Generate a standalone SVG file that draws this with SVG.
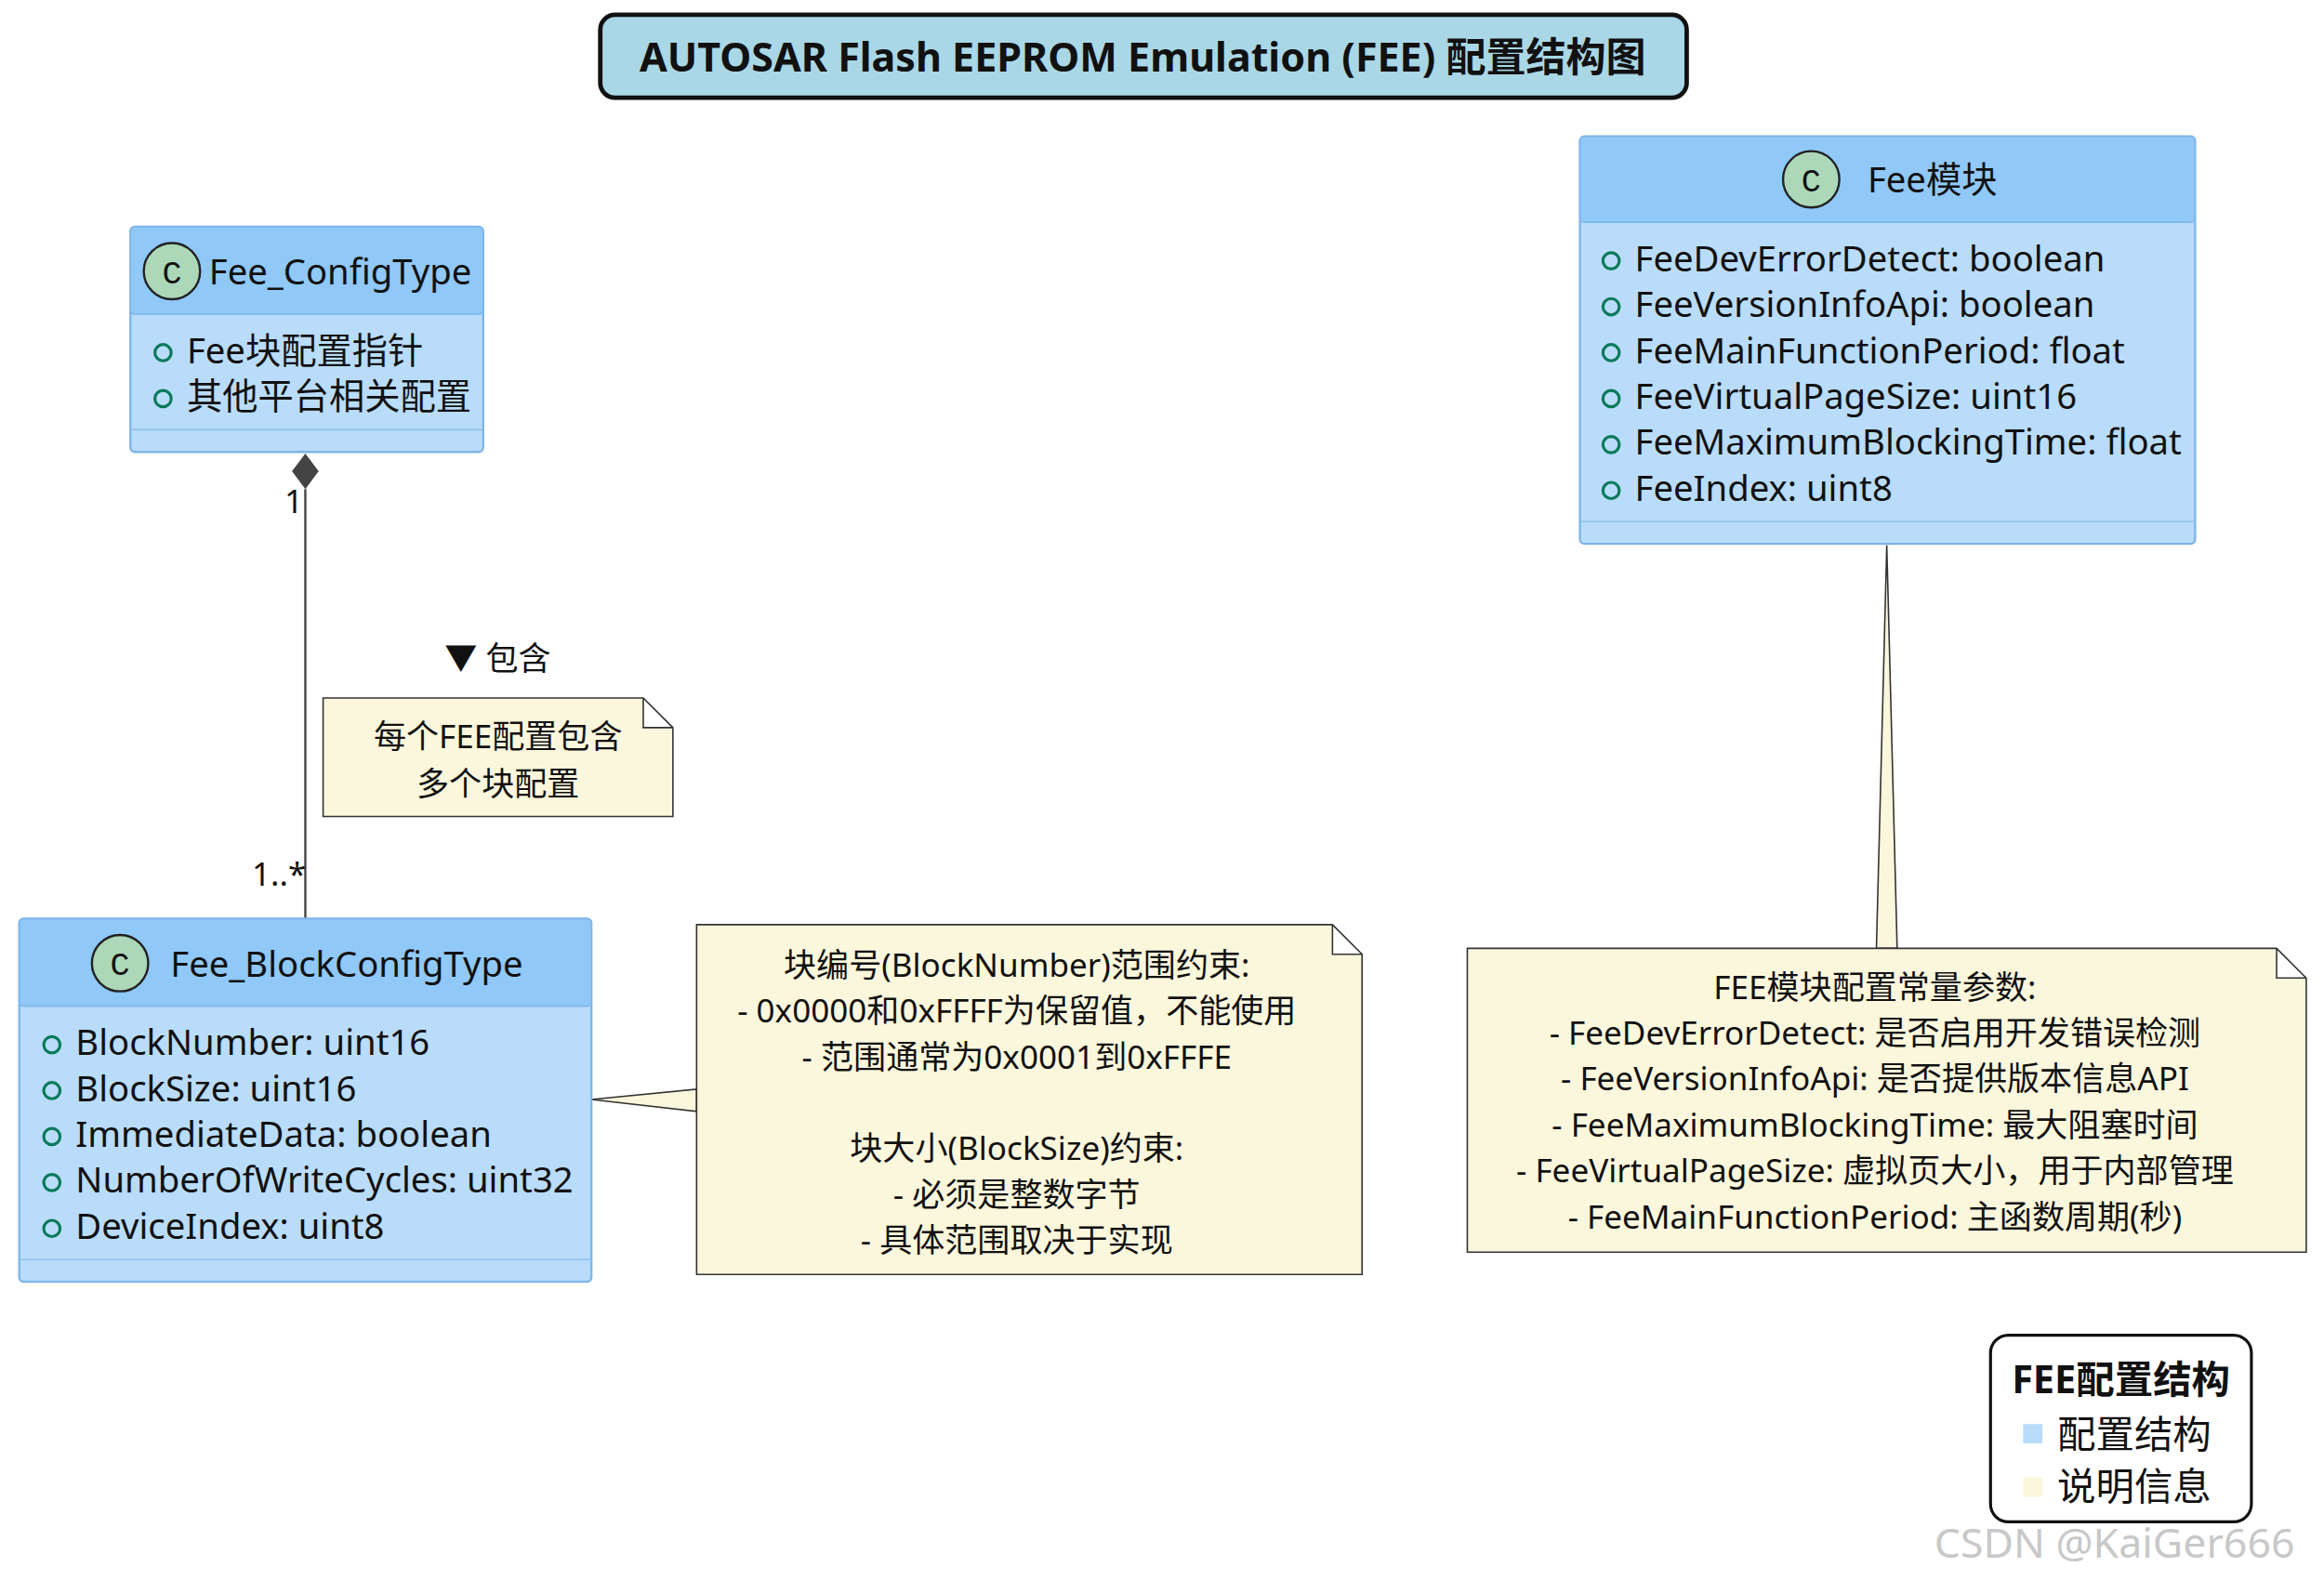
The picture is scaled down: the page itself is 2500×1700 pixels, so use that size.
<svg xmlns="http://www.w3.org/2000/svg" width="2500" height="1700" viewBox="0 0 2500 1700">
<style>
text{font-family:"Noto Sans","Noto Sans CJK SC",sans-serif;fill:#111}
.hd{fill:#90c8f8;stroke:#7fb5ea;stroke-width:1}
.bd{fill:#b9dcfa;stroke:#7fb5ea;stroke-width:1.5}
.sep{stroke:#8fc0ee;stroke-width:1}
.ci{fill:#acd8b9;stroke:#222;stroke-width:1.5}
.ct{font-size:22px;text-anchor:middle;font-family:"Liberation Mono",monospace}
.t{font-size:24px}
.at{font-size:24px}
.mk{fill:none;stroke:#0a7a5a;stroke-width:2}
.note{fill:#fbf7dc;stroke:#333;stroke-width:1}
.nt{font-size:22px;text-anchor:middle}
</style>
<rect width="2500" height="1700" fill="#fff"/>
<g transform="scale(1.5944)">
<g id="title">
<rect x="405" y="10" width="733" height="56" rx="10" fill="#a9d7e6" stroke="#111" stroke-width="3"/>
<text x="771" y="48" font-size="27" font-weight="bold" text-anchor="middle">AUTOSAR Flash EEPROM Emulation (FEE) 配置结构图</text>
</g>
<g id="connectors">
<line x1="206" y1="330" x2="206" y2="620" stroke="#444" stroke-width="1.5"/>
<polygon points="206,306 215,318 206,330 197,318" fill="#444"/>
<text x="192" y="346" font-size="22">1</text>
<text x="170" y="598" font-size="22">1..*</text>
<text x="300" y="452" font-size="22">▼ 包含</text>
<polygon points="399,742 470,735 470,750" fill="#fbf7dc" stroke="#333" stroke-width="1"/>
<polygon points="1273,368 1266,640 1280,640" fill="#fbf7dc" stroke="#333" stroke-width="1"/>
</g>
<g id="Fee_ConfigType">
<rect class="bd" x="88" y="153" width="238" height="152" rx="3"/>
<rect class="hd" x="88" y="153" width="238" height="59" rx="3"/>
<line class="sep" x1="88" y1="290" x2="326" y2="290"/>
<circle class="ci" cx="116" cy="183" r="19"/><text class="ct" x="116" y="191">C</text>
<text class="t" x="141" y="192">Fee_ConfigType</text>
<circle class="mk" cx="110" cy="238" r="5.5"/><text class="at" x="126" y="245">Fee块配置指针</text>
<circle class="mk" cx="110" cy="269" r="5.5"/><text class="at" x="126" y="276">其他平台相关配置</text>
</g>
<g id="note1">
<path class="note" d="M218,471 H434 L454,491 V551 H218 Z M434,471 V491 H454"/>
<text class="nt" x="336" y="505">每个FEE配置包含</text>
<text class="nt" x="336" y="537">多个块配置</text>
</g>
<g id="Fee_BlockConfigType">
<rect class="bd" x="13" y="620" width="386" height="245" rx="3"/>
<rect class="hd" x="13" y="620" width="386" height="59" rx="3"/>
<line class="sep" x1="13" y1="850" x2="399" y2="850"/>
<circle class="ci" cx="81" cy="650" r="19"/><text class="ct" x="81" y="658">C</text>
<text class="t" x="115" y="659">Fee_BlockConfigType</text>
<circle class="mk" cx="35" cy="705" r="5.5"/><text class="at" x="51" y="712">BlockNumber: uint16</text>
<circle class="mk" cx="35" cy="736" r="5.5"/><text class="at" x="51" y="743">BlockSize: uint16</text>
<circle class="mk" cx="35" cy="767" r="5.5"/><text class="at" x="51" y="774">ImmediateData: boolean</text>
<circle class="mk" cx="35" cy="798" r="5.5"/><text class="at" x="51" y="805">NumberOfWriteCycles: uint32</text>
<circle class="mk" cx="35" cy="829" r="5.5"/><text class="at" x="51" y="836">DeviceIndex: uint8</text>
</g>
<g id="note2">
<path class="note" d="M470,624 H899 L919,644 V860 H470 Z M899,624 V644 H919"/>
<text class="nt" x="686" y="659">块编号(BlockNumber)范围约束:</text>
<text class="nt" x="686" y="690">- 0x0000和0xFFFF为保留值，不能使用</text>
<text class="nt" x="686" y="721">- 范围通常为0x0001到0xFFFE</text>
<text class="nt" x="686" y="783">块大小(BlockSize)约束:</text>
<text class="nt" x="686" y="814">- 必须是整数字节</text>
<text class="nt" x="686" y="845">- 具体范围取决于实现</text>
</g>
<g id="Fee模块">
<rect class="bd" x="1066" y="92" width="415" height="275" rx="3"/>
<rect class="hd" x="1066" y="92" width="415" height="58" rx="3"/>
<line class="sep" x1="1066" y1="352" x2="1481" y2="352"/>
<circle class="ci" cx="1222" cy="121" r="19"/><text class="ct" x="1222" y="129">C</text>
<text class="t" x="1260" y="130">Fee模块</text>
<circle class="mk" cx="1087" cy="176" r="5.5"/><text class="at" x="1103" y="183">FeeDevErrorDetect: boolean</text>
<circle class="mk" cx="1087" cy="207" r="5.5"/><text class="at" x="1103" y="214">FeeVersionInfoApi: boolean</text>
<circle class="mk" cx="1087" cy="238" r="5.5"/><text class="at" x="1103" y="245">FeeMainFunctionPeriod: float</text>
<circle class="mk" cx="1087" cy="269" r="5.5"/><text class="at" x="1103" y="276">FeeVirtualPageSize: uint16</text>
<circle class="mk" cx="1087" cy="300" r="5.5"/><text class="at" x="1103" y="307">FeeMaximumBlockingTime: float</text>
<circle class="mk" cx="1087" cy="331" r="5.5"/><text class="at" x="1103" y="338">FeeIndex: uint8</text>
</g>
<g id="note3">
<path class="note" d="M990,640 H1536 L1556,660 V845 H990 Z M1536,640 V660 H1556"/>
<text class="nt" x="1265" y="674">FEE模块配置常量参数:</text>
<text class="nt" x="1265" y="705">- FeeDevErrorDetect: 是否启用开发错误检测</text>
<text class="nt" x="1265" y="736">- FeeVersionInfoApi: 是否提供版本信息API</text>
<text class="nt" x="1265" y="767">- FeeMaximumBlockingTime: 最大阻塞时间</text>
<text class="nt" x="1265" y="798">- FeeVirtualPageSize: 虚拟页大小，用于内部管理</text>
<text class="nt" x="1265" y="829">- FeeMainFunctionPeriod: 主函数周期(秒)</text>
</g>
<g id="legend">
<rect x="1343" y="901" width="176" height="126" rx="12" fill="#fff" stroke="#111" stroke-width="2"/>
<text x="1431" y="940" font-size="26" font-weight="bold" text-anchor="middle">FEE配置结构</text>
<rect x="1365" y="961" width="13" height="13" fill="#b9dcfa"/>
<text x="1388" y="977" font-size="26">配置结构</text>
<rect x="1365" y="997" width="13" height="13" fill="#fbf7dc"/>
<text x="1388" y="1012" font-size="26">说明信息</text>
</g>
<text x="1305" y="1051" font-size="28" style="fill:#c8c8c8">CSDN @KaiGer666</text>
</g>
</svg>
